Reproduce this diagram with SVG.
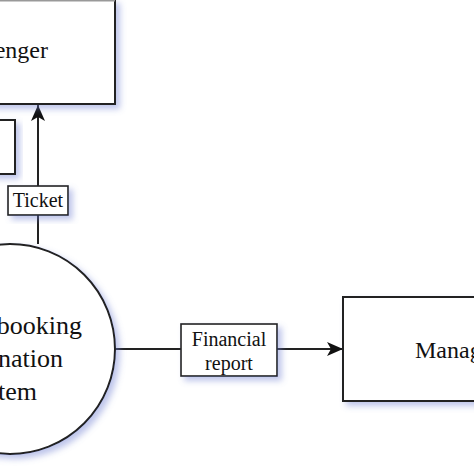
<svg xmlns="http://www.w3.org/2000/svg" width="474" height="474" viewBox="0 0 474 474">
<defs>
<filter id="sh" x="-20%" y="-20%" width="150%" height="150%">
<feDropShadow dx="4" dy="4" stdDeviation="3" flood-color="#6f7fd0" flood-opacity="0.45"/>
</filter>
<marker id="arr" viewBox="0 0 16 14" refX="16" refY="7" markerWidth="16" markerHeight="14" markerUnits="userSpaceOnUse" orient="auto">
<path d="M0,0 L16,7 L0,14 L4,7 Z" fill="#111"/>
</marker>
</defs>
<style>
.box{fill:#fff;stroke:#222;stroke-width:2}
.lab{fill:#fff;stroke:#222;stroke-width:1.6}
.big{font-family:"Liberation Serif",serif;font-size:26px;fill:#111}
.mid{font-family:"Liberation Serif",serif;font-size:24px;fill:#111}
.small{font-family:"Liberation Serif",serif;font-size:20px;fill:#111}
.conn{stroke:#222;stroke-width:2;fill:none}
</style>
<rect x="0" y="0" width="474" height="474" fill="#fff"/>
<g id="connectors">
<line class="conn" x1="38" y1="244" x2="38" y2="105" marker-end="url(#arr)"/>
<line class="conn" x1="115" y1="349" x2="343" y2="349" marker-end="url(#arr)"/>
</g>
<g id="passenger">
<rect class="box" x="-10" y="0" width="125" height="104" filter="url(#sh)"/>
<line x1="0" y1="0.5" x2="115" y2="0.5" stroke="#999" stroke-width="2"/>
<text class="mid" x="48" y="58" text-anchor="end">enger</text>
</g>
<g id="small-box">
<rect class="box" x="-10" y="120" width="25" height="54" filter="url(#sh)"/>
</g>
<g id="ticket-label">
<rect class="lab" x="8" y="186" width="60" height="29" filter="url(#sh)"/>
<text class="small" x="38" y="207" text-anchor="middle">Ticket</text>
</g>
<g id="system">
<ellipse class="box" cx="10" cy="349" rx="105" ry="105" filter="url(#sh)"/>
<text class="big" x="82" y="334" text-anchor="end">booking</text>
<text class="big" x="63" y="367" text-anchor="end">nation</text>
<text class="big" x="37" y="400" text-anchor="end">tem</text>
</g>
<g id="financial-label">
<rect class="lab" x="181" y="324" width="96" height="52" filter="url(#sh)"/>
<text class="small" x="229" y="346" text-anchor="middle">Financial</text>
<text class="small" x="229" y="370" text-anchor="middle">report</text>
</g>
<g id="manager">
<rect class="box" x="343" y="297" width="145" height="104" filter="url(#sh)"/>
<text class="mid" x="415" y="358">Manag</text>
</g>
</svg>
